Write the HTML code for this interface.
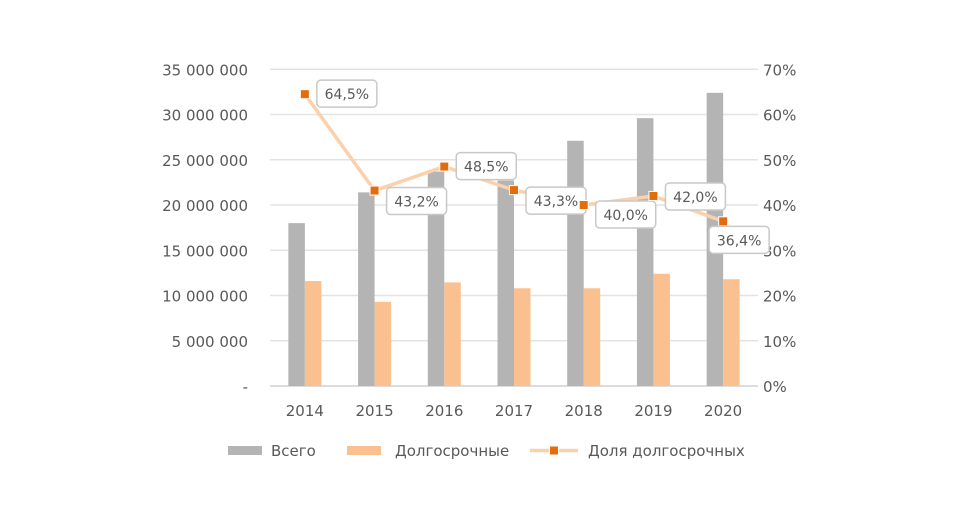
<!DOCTYPE html>
<html><head><meta charset="utf-8"><style>
body{margin:0;background:#fff}
svg text{font-family:"DejaVu Sans","Liberation Sans",sans-serif;fill:#595959}
</style></head><body>
<svg width="968" height="504" id="c"></svg>
<script>
const categories=["2014","2015","2016","2017","2018","2019","2020"];
const totalValues=[18.0,21.4,23.7,22.7,27.1,29.6,32.4];
const longValues=[11.6,9.3,11.45,10.8,10.8,12.4,11.8];
const shareValues=[64.5,43.2,48.5,43.3,40.0,42.0,36.4];
const leftTicks=["-","5 000 000","10 000 000","15 000 000","20 000 000","25 000 000","30 000 000","35 000 000"];
const rightTicks=["0%","10%","20%","30%","40%","50%","60%","70%"];
const shareLabels=["64,5%","43,2%","48,5%","43,3%","40,0%","42,0%","36,4%"];
const labelOffsets=[[12,-14],[12,-3],[12,-14],[12,-3],[12,-4],[12,-13],[-14,5]];
const svg=document.getElementById('c');const NS='http://www.w3.org/2000/svg';
function mk(t,a,p){const e=document.createElementNS(NS,t);for(const k in a)e.setAttribute(k,a[k]);(p||svg).appendChild(e);return e;}
const x0=270,x1=758,y0=386,yTop=69.3;const bw=(x1-x0)/categories.length;
const yL=v=>y0-(v/35)*(y0-yTop);const yR=v=>y0-(v/70)*(y0-yTop);const xc=i=>x0+bw*(i+0.5);
for(let i=0;i<8;i++){const y=yL(i*5);
const g=mk('line',{x1:x0,x2:x1,y1:y,y2:y,stroke:i==0?'#d0d0d0':'#e3e3e3','stroke-width':1.5});

const t=mk('text',{x:248,y:y+6,'text-anchor':'end','font-size':15});t.textContent=leftTicks[i];

const r=mk('text',{x:763,y:y+6,'font-size':15});r.textContent=rightTicks[i];
}
categories.forEach((c,i)=>{
const b1=mk('rect',{x:xc(i)-16.5,y:yL(totalValues[i]),width:16.5,height:y0-yL(totalValues[i]),fill:'#b4b4b4'});

const b2=mk('rect',{x:xc(i),y:yL(longValues[i]),width:16.5,height:y0-yL(longValues[i]),fill:'#fac090'});

const t=mk('text',{x:xc(i),y:416,'text-anchor':'middle','font-size':15});t.textContent=c;
});
const pts=shareValues.map((v,i)=>xc(i)+','+yR(v)).join(' ');
const ln=mk('polyline',{points:pts,fill:'none',stroke:'#fbd0ab','stroke-width':3.5});

shareValues.forEach((v,i)=>{
const m=mk('rect',{x:xc(i)-4.5,y:yR(v)-4.5,width:9,height:9,fill:'#e46c0a',stroke:'#fff','stroke-width':1});

const lx=xc(i)+labelOffsets[i][0],ly=yR(v)+labelOffsets[i][1];
const b=mk('rect',{x:lx,y:ly,width:60,height:27,rx:4,fill:'#fff',stroke:'#c8c8c8','stroke-width':1.5});

const t=mk('text',{x:lx+30,y:ly+19,'text-anchor':'middle','font-size':14});t.textContent=shareLabels[i];
});
</script>
<svg width="968" height="504" style="position:absolute;left:0;top:0">
<rect x="228" y="446" width="34" height="9" fill="#b4b4b4"/>
<text x="271" y="456" font-size="15">Всего</text>
<rect x="347" y="446" width="34" height="9" fill="#fac090"/>
<text x="395" y="456" font-size="15">Долгосрочные</text>
<line x1="530" x2="578" y1="450.5" y2="450.5" stroke="#fbd0ab" stroke-width="3.5"/>
<rect x="549.5" y="446" width="9" height="9" fill="#e46c0a" stroke="#fff"/>
<text x="588" y="456" font-size="15">Доля долгосрочных</text>
</svg>
</body></html>
